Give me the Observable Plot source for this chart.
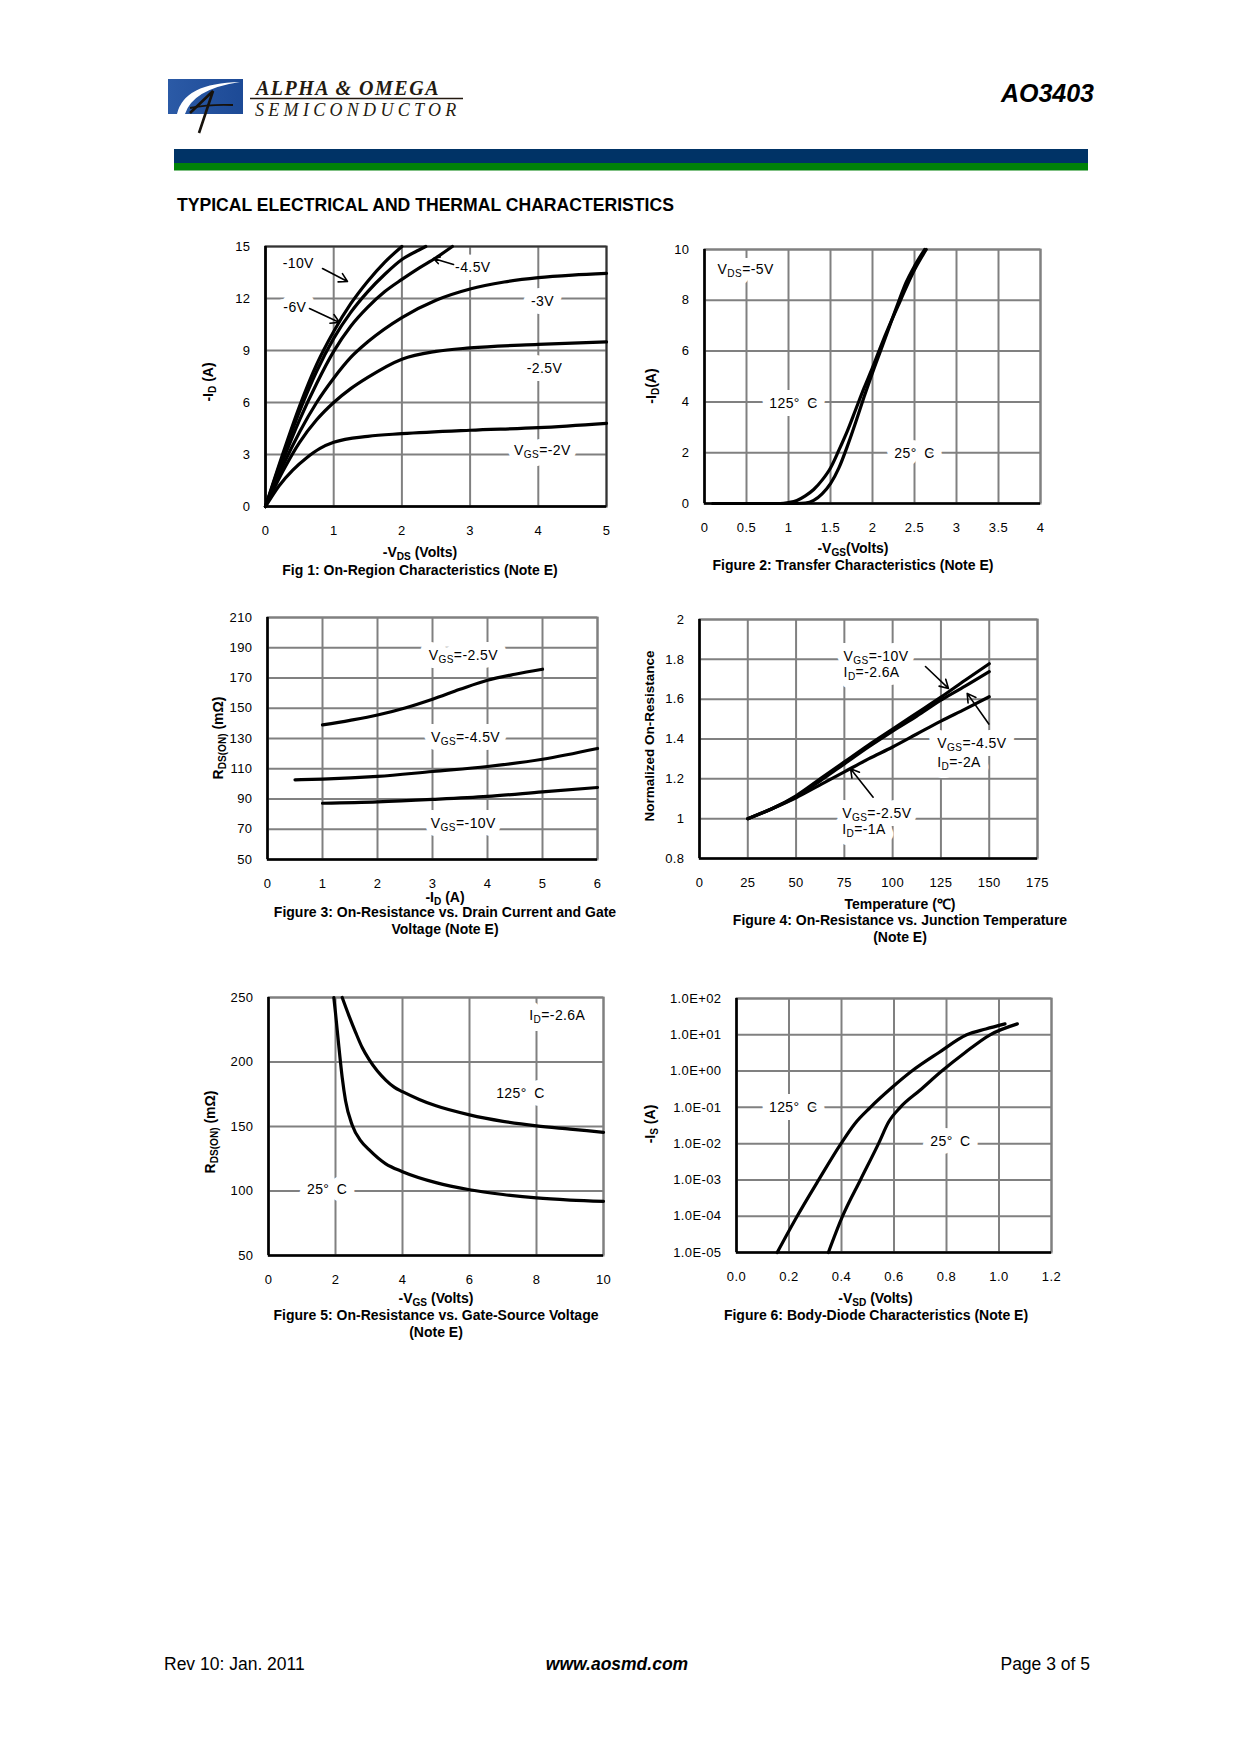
<!DOCTYPE html>
<html>
<head>
<meta charset="utf-8">
<title>AO3403 Typical Electrical and Thermal Characteristics</title>
<script src="https://cdn.jsdelivr.net/npm/d3@7"></script>
<script src="https://cdn.jsdelivr.net/npm/@observablehq/plot@0.6"></script>
<style>
  body { margin: 0; background: #fff; }
  #page { position: relative; width: 1240px; height: 1754px; background: #fff; overflow: hidden;
          font-family: "Liberation Sans", Arial, Helvetica, sans-serif; color: #000; }
  .t { position: absolute; white-space: nowrap; line-height: 1; }
  .sub { font-size: 0.72em; position: relative; top: 0.3em; }
  svg.abs { position: absolute; }
</style>
</head>
<body>
<div id="page"></div>
<script>
// ---------------- Data ----------------
// Fig 1: -ID (A) vs -VDS (V) for each gate voltage
const vgs10V  = [[0,0],[0.25,3.0],[0.5,5.8],[0.75,8.2],[1,10.1],[1.25,11.7],[1.5,13.0],[1.75,14.1],[2.0,15.0]];
const vgs6V   = [[0,0],[0.25,2.85],[0.5,5.5],[0.75,7.8],[1,9.7],[1.25,11.2],[1.5,12.4],[1.75,13.4],[2,14.25],[2.25,14.8],[2.35,15.0]];
const vgs4_5V = [[0,0],[0.25,2.6],[0.5,5.0],[0.75,7.1],[1,8.95],[1.25,10.4],[1.5,11.5],[1.75,12.4],[2,13.1],[2.25,13.75],[2.5,14.35],[2.74,15.0]];
const vgs3V   = [[0,0],[0.25,2.3],[0.5,4.3],[0.75,6.0],[1,7.4],[1.25,8.6],[1.5,9.5],[2,10.9],[2.5,11.9],[3,12.55],[3.5,12.95],[4,13.2],[4.5,13.35],[5,13.45]];
const vgs2_5V = [[0,0],[0.25,2.0],[0.5,3.7],[0.75,5.0],[1,6.0],[1.25,6.8],[1.5,7.45],[2,8.5],[2.5,8.95],[3,9.15],[4,9.35],[5,9.5]];
const vgs2V   = [[0,0],[0.2,1.2],[0.4,2.1],[0.6,2.8],[0.8,3.35],[1,3.7],[1.5,4.05],[2,4.2],[3,4.4],[4,4.55],[5,4.8]];
const fig1XTicks = [0,1,2,3,4,5];
const fig1YTicks = [0,3,6,9,12,15];

// Fig 2: transfer characteristics, -ID (A) vs -VGS (V) at VDS=-5V
const transfer25C  = [[0.1,0],[1.0,0],[1.2,0.02],[1.3,0.12],[1.4,0.38],[1.5,0.78],[1.6,1.4],[1.7,2.25],[1.8,3.2],[1.9,4.2],[2.0,5.15],[2.1,6.05],[2.2,6.95],[2.3,7.85],[2.4,8.7],[2.5,9.35],[2.62,10.0]];
const transfer125C = [[0.1,0],[0.9,0],[1.0,0.04],[1.1,0.12],[1.2,0.3],[1.3,0.55],[1.4,0.92],[1.5,1.4],[1.6,2.1],[1.7,2.85],[1.8,3.7],[1.9,4.55],[2.0,5.35],[2.1,6.2],[2.2,7.0],[2.3,7.75],[2.4,8.5],[2.5,9.2],[2.64,10.0]];
const fig2XTicks = [0,0.5,1,1.5,2,2.5,3,3.5,4];
const fig2YTicks = [0,2,4,6,8,10];

// Fig 3: RDS(ON) (mOhm) vs -ID (A)
const rdsVgs2_5V = [[1,139],[1.5,142],[2,145.5],[2.5,150.2],[3,156],[3.5,162.5],[4,168.5],[4.5,172.5],[5,175.8]];
const rdsVgs4_5V = [[0.5,102.7],[1,103.1],[2,104.9],[3,108.2],[4,111.5],[5,116.3],[6,123.4]];
const rdsVgs10V  = [[1,87.2],[2,88.1],[3,89.7],[4,91.7],[5,94.7],[6,97.6]];
const fig3XTicks = [0,1,2,3,4,5,6];
const fig3YTicks = [50,70,90,110,130,150,170,190,210];

// Fig 4: normalized on-resistance vs junction temperature (C)
const normVgs10V  = [[25,1.0],[37.5,1.05],[50,1.115],[62.5,1.2],[75,1.285],[87.5,1.37],[100,1.45],[112.5,1.53],[125,1.61],[137.5,1.695],[150,1.778]];
const normVgs4_5V = [[25,1.0],[37.5,1.05],[50,1.11],[62.5,1.19],[75,1.275],[87.5,1.36],[100,1.44],[112.5,1.515],[125,1.595],[137.5,1.665],[150,1.738]];
const normVgs2_5V = [[25,1.0],[37.5,1.05],[50,1.105],[62.5,1.17],[75,1.235],[87.5,1.30],[100,1.36],[112.5,1.425],[125,1.49],[137.5,1.55],[150,1.612]];
const fig4XTicks = [0,25,50,75,100,125,150,175];
const fig4YTicks = [0.8,1,1.2,1.4,1.6,1.8,2];

// Fig 5: RDS(ON) (mOhm) vs -VGS (V) at ID=-2.6A
const rdsVgs25C  = [[1.95,250],[2.0,238],[2.1,212],[2.2,188],[2.3,170],[2.5,151],[2.75,139],[3,132],[3.5,121],[4,115],[5,106.5],[6,101],[7,97.3],[8,94.6],[9,93],[10,92]];
const rdsVgs125C = [[2.2,250],[2.4,236],[2.6,223],[2.8,211],[3,202],[3.25,193],[3.5,186],[3.75,180.5],[4,177],[4.5,171],[5,166],[6,159],[7,154],[8,150.5],[9,148],[10,145.5]];
const fig5XTicks = [0,2,4,6,8,10];
const fig5YTicks = [50,100,150,200,250];

// Fig 6: body diode, -IS (A) vs -VSD (V)
const diode125C = [[0.155,1e-5],[0.231,1e-4],[0.313,1e-3],[0.398,1e-2],[0.45,3.5e-2],[0.51,1e-1],[0.59,3.4e-1],[0.668,1],[0.77,3.2],[0.877,10],[0.95,14.5],[1.023,20]];
const diode25C  = [[0.35,1e-5],[0.404,1e-4],[0.472,1e-3],[0.541,1e-2],[0.58,4e-2],[0.624,1e-1],[0.70,3e-1],[0.782,1],[0.87,3.2],[0.966,10],[1.07,20]];
const fig6XTicks = [0,0.2,0.4,0.6,0.8,1.0,1.2];
const fig6YTicks = [1e-5,1e-4,1e-3,1e-2,1e-1,1e0,1e1,1e2];

// ---------------- Annotations (data coordinates) ----------------
const fig1Notes = [
  {text: "-10V", x: 0.48, y: 14.02},
  {text: "-6V", x: 0.43, y: 11.48},
  {text: "-4.5V", x: 3.04, y: 13.79},
  {text: "-3V", x: 4.06, y: 11.83},
  {text: "-2.5V", x: 4.09, y: 7.96},
  {text: "V_{GS}=-2V", x: 4.06, y: 3.23}
];
const fig1Arrows = [
  {x1: 0.836, y1: 13.73, x2: 1.202, y2: 12.98},
  {x1: 0.645, y1: 11.42, x2: 1.085, y2: 10.62},
  {x1: 2.757, y1: 13.96, x2: 2.463, y2: 14.31}
];
const fig2Notes = [
  {text: "V_{DS}=-5V", x: 0.49, y: 9.21},
  {text: "125°\u2002C", x: 1.06, y: 3.94},
  {text: "25°\u2002C", x: 2.5, y: 1.97}
];
const fig3Notes = [
  {text: "V_{GS}=-2.5V", x: 3.56, y: 184.9},
  {text: "V_{GS}=-4.5V", x: 3.6, y: 130.7},
  {text: "V_{GS}=-10V", x: 3.56, y: 73.8}
];
const fig4Notes = [
  {text: "V_{GS}=-10V", x: 74.6, y: 1.814},
  {text: "I_{D}=-2.6A", x: 74.6, y: 1.734},
  {text: "V_{GS}=-4.5V", x: 123.1, y: 1.376},
  {text: "I_{D}=-2A", x: 123.1, y: 1.284},
  {text: "V_{GS}=-2.5V", x: 73.9, y: 1.024},
  {text: "I_{D}=-1A", x: 73.9, y: 0.944}
];
const fig4Arrows = [
  {x1: 117.0, y1: 1.764, x2: 128.9, y2: 1.654},
  {x1: 149.8, y1: 1.475, x2: 138.6, y2: 1.629},
  {x1: 89.9, y1: 1.108, x2: 78.2, y2: 1.251}
];
const fig5Notes = [
  {text: "I_{D}=-2.6A", x: 8.62, y: 236},
  {text: "125°\u2002C", x: 7.52, y: 175.4},
  {text: "25°\u2002C", x: 1.75, y: 100.9}
];
const fig6Notes = [
  {text: "125°\u2002C", x: 0.216, y: 0.098},
  {text: "25°\u2002C", x: 0.815, y: 0.01166}
];

// ---------------- Helpers ----------------
const FONT = '"Liberation Sans", Arial, Helvetica, sans-serif';
const GRID = "#808080";
const page = document.getElementById("page");
const SVGNS = "http://www.w3.org/2000/svg";

const rows = (pairs, series) => pairs.map(([x, y]) => ({x, y, series}));
const fmtNum = d => String(Math.round(d * 1000) / 1000);
const fmtExp = d => {
  const e = Math.round(Math.log10(d));
  return "1.0E" + (e < 0 ? "-" : "+") + String(Math.abs(e)).padStart(2, "0");
};

// Turn "V_{GS}" markup in SVG text into lowered, smaller tspans
function subscripts(svg) {
  d3.select(svg).selectAll("text").each(function () {
    const s = this.textContent;
    if (!s.includes("_{")) return;
    const parts = s.split(/(_\{[^}]*\})/).filter(p => p);
    this.textContent = "";
    let lowered = false;
    for (const p of parts) {
      const t = document.createElementNS(SVGNS, "tspan");
      if (p.startsWith("_{")) {
        t.textContent = p.slice(2, -1);
        t.setAttribute("font-size", "0.72em");
        t.setAttribute("dy", "3");
        lowered = true;
      } else {
        t.textContent = p;
        if (lowered) { t.setAttribute("dy", "-3"); lowered = false; }
      }
      this.appendChild(t);
    }
  });
}

function label(html, x, y, o = {}) {
  const d = document.createElement("div");
  d.className = "t";
  d.innerHTML = html;
  d.style.left = x + "px";
  d.style.top = y + "px";
  d.style.fontSize = (o.size ?? 14) + "px";
  d.style.fontWeight = o.weight ?? "bold";
  d.style.fontStyle = o.style ?? "normal";
  if (o.family) d.style.fontFamily = o.family;
  const tx = o.align === "left" ? "0" : o.align === "right" ? "-100%" : "-50%";
  d.style.transform = `translate(${tx},-50%)` + (o.rotate ? " rotate(-90deg)" : "");
  page.appendChild(d);
  return d;
}

// Plot frame rectangles on the page: [left, right, top, bottom]
const frames = {
  f1: [265, 606, 246, 506],
  f2: [704, 1040, 249, 503],
  f3: [267, 597, 617, 859],
  f4: [699, 1037, 619, 858],
  f5: [268, 603, 997, 1255],
  f6: [736, 1051, 998, 1252]
};

function chart(key, {x, y, frameColor = GRID, notes = [], noteAnchor = "middle", curves, arrows = []}) {
  const [x0, x1, y0, y1] = frames[key];
  const mL = 80, mR = 24, mT = 16, mB = 40;
  const noteOpts = {x: "x", y: "y", text: "text", fontSize: 14, textAnchor: noteAnchor};
  const svg = Plot.plot({
    width: x1 - x0 + mL + mR,
    height: y1 - y0 + mT + mB,
    marginLeft: mL, marginRight: mR, marginTop: mT, marginBottom: mB,
    style: `font-family:${FONT};font-size:13px;letter-spacing:0.4px;background:transparent;overflow:visible;color:#000;max-width:none;`,
    x: {...x, tickSize: 0, tickPadding: 19, label: null},
    y: {...y, tickSize: 0, tickPadding: 15, label: null},
    marks: [
      Plot.ruleX(x.ticks, {stroke: GRID, strokeWidth: 2}),
      Plot.ruleY(y.ticks, {stroke: GRID, strokeWidth: 2}),
      Plot.frame({stroke: frameColor, strokeWidth: 2}),
      // white knockout boxes behind the callout labels
      Plot.text(notes, {...noteOpts, fill: "white", stroke: "white", strokeWidth: 16, strokeLinejoin: "round"}),
      Plot.text(notes, {...noteOpts, fill: "black"}),
      Plot.ruleX([x.domain[0]], {stroke: "black", strokeWidth: 2.6}),
      Plot.ruleY([y.domain[0]], {stroke: "black", strokeWidth: 2.6}),
      Plot.line(curves, {x: "x", y: "y", z: "series", stroke: "black", strokeWidth: 3.2,
        curve: "monotone-x", strokeLinejoin: "round", strokeLinecap: "round"}),
      Plot.arrow(arrows, {x1: "x1", y1: "y1", x2: "x2", y2: "y2", stroke: "black",
        strokeWidth: 1.6, headLength: 9})
    ]
  });
  subscripts(svg);
  svg.classList.add("abs");
  svg.style.left = (x0 - mL) + "px";
  svg.style.top = (y0 - mT) + "px";
  page.appendChild(svg);
}

// ---------------- Header ----------------
const header = d3.select(page).append("svg").attr("class", "abs")
  .attr("width", 1240).attr("height", 230).style("left", "0px").style("top", "0px");
const grad = header.append("defs").append("linearGradient").attr("id", "logoBlue")
  .attr("x1", 0).attr("x2", 1).attr("y1", 0).attr("y2", 0);
grad.append("stop").attr("offset", 0).attr("stop-color", "#2b5aa6");
grad.append("stop").attr("offset", 1).attr("stop-color", "#1d4a96");
const logo = header.append("g").attr("transform", "translate(160,70)");
logo.append("rect").attr("x", 8).attr("y", 9).attr("width", 75).attr("height", 35).attr("fill", "url(#logoBlue)");
logo.append("path").attr("d", "M17,44 Q24,13 80,12 Q33,19 25,44 Z").attr("fill", "#fff");
logo.append("path").attr("d", "M30,43 L53,21 L39,63").attr("fill", "none").attr("stroke", "#17120c")
  .attr("stroke-width", 2.6).attr("stroke-linejoin", "miter");
logo.append("path").attr("d", "M30,38 Q50,34 73,35").attr("fill", "none").attr("stroke", "#17120c").attr("stroke-width", 1.8);
header.append("text").attr("x", 256).attr("y", 94.5).text("ALPHA & OMEGA")
  .attr("font-family", '"Liberation Serif", "Times New Roman", serif').attr("font-weight", "bold")
  .attr("font-style", "italic").attr("font-size", 20).attr("letter-spacing", "1.5px").attr("fill", "#241a10");
header.append("line").attr("x1", 250).attr("x2", 463).attr("y1", 98.5).attr("y2", 98.5)
  .attr("stroke", "#241a10").attr("stroke-width", 1.3);
header.append("text").attr("x", 255).attr("y", 115.5).text("SEMICONDUCTOR")
  .attr("font-family", '"Liberation Serif", "Times New Roman", serif')
  .attr("font-style", "italic").attr("font-size", 18).attr("letter-spacing", "4.3px").attr("fill", "#241a10");
header.append("text").attr("x", 1094).attr("y", 102).attr("text-anchor", "end").text("AO3403")
  .attr("font-family", FONT).attr("font-weight", "bold").attr("font-style", "italic").attr("font-size", 25);
header.append("rect").attr("x", 174).attr("y", 149).attr("width", 914).attr("height", 14).attr("fill", "#003366");
header.append("rect").attr("x", 174).attr("y", 163).attr("width", 914).attr("height", 7.5).attr("fill", "#008208");
header.append("text").attr("x", 177).attr("y", 210.5).text("TYPICAL ELECTRICAL AND THERMAL CHARACTERISTICS")
  .attr("font-family", FONT).attr("font-weight", "bold").attr("font-size", 17.6);

// ---------------- Fig 1 ----------------
chart("f1", {
  x: {domain: [0, 5], ticks: fig1XTicks, tickFormat: fmtNum},
  y: {domain: [0, 15], ticks: fig1YTicks, tickFormat: fmtNum},
  frameColor: "#333",
  notes: fig1Notes,
  arrows: fig1Arrows,
  curves: [
    ...rows(vgs10V, "-10V"), ...rows(vgs6V, "-6V"), ...rows(vgs4_5V, "-4.5V"),
    ...rows(vgs3V, "-3V"), ...rows(vgs2_5V, "-2.5V"), ...rows(vgs2V, "-2V")
  ]
});
label("-I<span class='sub'>D</span> (A)", 208, 382, {rotate: true});
label("-V<span class='sub'>DS</span> (Volts)", 420, 552);
label("Fig 1: On-Region Characteristics (Note E)", 420, 569.5);

// ---------------- Fig 2 ----------------
chart("f2", {
  x: {domain: [0, 4], ticks: fig2XTicks, tickFormat: fmtNum},
  y: {domain: [0, 10], ticks: fig2YTicks, tickFormat: fmtNum},
  notes: fig2Notes,
  curves: [...rows(transfer25C, "25°C"), ...rows(transfer125C, "125°C")]
});
label("-I<span class='sub'>D</span>(A)", 650.5, 386, {rotate: true});
label("-V<span class='sub'>GS</span>(Volts)", 853, 547.5);
label("Figure 2: Transfer Characteristics (Note E)", 853, 564.5);

// ---------------- Fig 3 ----------------
chart("f3", {
  x: {domain: [0, 6], ticks: fig3XTicks, tickFormat: fmtNum},
  y: {domain: [50, 210], ticks: fig3YTicks, tickFormat: fmtNum},
  notes: fig3Notes,
  curves: [...rows(rdsVgs2_5V, "-2.5V"), ...rows(rdsVgs4_5V, "-4.5V"), ...rows(rdsVgs10V, "-10V")]
});
label("R<span class='sub'>DS(ON)</span> (mΩ)", 218, 738, {rotate: true});
label("-I<span class='sub'>D</span> (A)", 445, 896.5);
label("Figure 3: On-Resistance vs. Drain Current and Gate", 445, 912);
label("Voltage (Note E)", 445, 928.5);

// ---------------- Fig 4 ----------------
chart("f4", {
  x: {domain: [0, 175], ticks: fig4XTicks, tickFormat: fmtNum},
  y: {domain: [0.8, 2], ticks: fig4YTicks, tickFormat: fmtNum},
  notes: fig4Notes,
  noteAnchor: "start",
  arrows: fig4Arrows,
  curves: [...rows(normVgs10V, "-10V"), ...rows(normVgs4_5V, "-4.5V"), ...rows(normVgs2_5V, "-2.5V")]
});
label("Normalized On-Resistance", 649.5, 736, {rotate: true, size: 13.5});
label("Temperature (℃)", 900, 903.5);
label("Figure 4: On-Resistance vs. Junction Temperature", 900, 920);
label("(Note E)", 900, 937);

// ---------------- Fig 5 ----------------
chart("f5", {
  x: {domain: [0, 10], ticks: fig5XTicks, tickFormat: fmtNum},
  y: {domain: [50, 250], ticks: fig5YTicks, tickFormat: fmtNum},
  notes: fig5Notes,
  curves: [...rows(rdsVgs25C, "25°C"), ...rows(rdsVgs125C, "125°C")]
});
label("R<span class='sub'>DS(ON)</span> (mΩ)", 210, 1131.5, {rotate: true});
label("-V<span class='sub'>GS</span> (Volts)", 436, 1298);
label("Figure 5: On-Resistance vs. Gate-Source Voltage", 436, 1315);
label("(Note E)", 436, 1331.5);

// ---------------- Fig 6 ----------------
chart("f6", {
  x: {domain: [0, 1.2], ticks: fig6XTicks, tickFormat: d3.format(".1f")},
  y: {type: "log", domain: [1e-5, 1e2], ticks: fig6YTicks, tickFormat: fmtExp},
  notes: fig6Notes,
  curves: [...rows(diode125C, "125°C"), ...rows(diode25C, "25°C")]
});
label("-I<span class='sub'>S</span> (A)", 649.5, 1124, {rotate: true});
label("-V<span class='sub'>SD</span> (Volts)", 875.5, 1298);
label("Figure 6: Body-Diode Characteristics (Note E)", 876, 1315);

// ---------------- Footer ----------------
const footer = d3.select(page).append("svg").attr("class", "abs")
  .attr("width", 1240).attr("height", 40).style("left", "0px").style("top", "1645px")
  .attr("font-family", FONT).attr("font-size", 17.5);
footer.append("text").attr("x", 164).attr("y", 25).text("Rev 10: Jan. 2011");
footer.append("text").attr("x", 617).attr("y", 25).attr("text-anchor", "middle")
  .attr("font-weight", "bold").attr("font-style", "italic").text("www.aosmd.com");
footer.append("text").attr("x", 1090).attr("y", 25).attr("text-anchor", "end").text("Page 3 of 5");
</script>
</body>
</html>
